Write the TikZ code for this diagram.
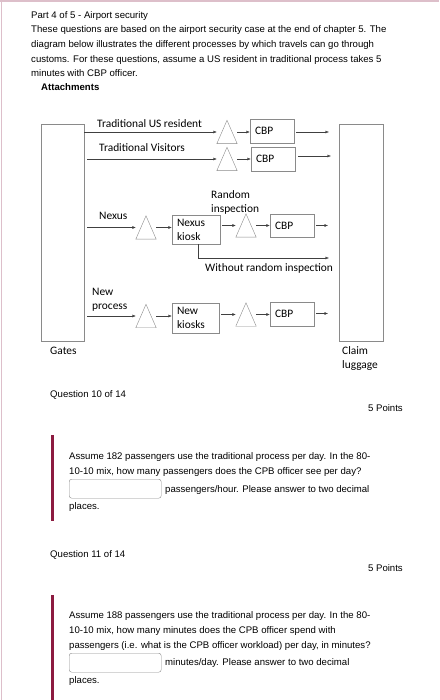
\documentclass[tikz,border=0pt]{standalone}
\usepackage{fontspec}
\setmainfont{Liberation Sans}
\newfontfamily\calibri{Carlito}
\usetikzlibrary{arrows.meta}
\definecolor{framepink}{HTML}{DDBFCA}
\definecolor{barred}{HTML}{8C1B40}
\definecolor{boxgray}{HTML}{8A8A8A}

\begin{document}
\begin{tikzpicture}[x=1pt,y=-1pt,
    txt/.style={anchor=base west,inner sep=0pt,font=\fontsize{9.6}{14.6}\selectfont,align=left},
    lbl/.style={anchor=base west,inner sep=0pt,font=\calibri\fontsize{11.4}{14}\selectfont,align=left},
    stage/.style={draw=boxgray,inner xsep=5pt,inner ysep=0pt,align=left,font=\calibri\fontsize{11.4}{14}\selectfont},
    tri/.style={minimum width=20pt,minimum height=23pt,inner sep=0pt},
    hall/.style={draw=boxgray,minimum width=43pt,minimum height=217pt,inner sep=0pt},
    arr/.style={draw=black!75,-{Latex[length=3.5pt,width=3pt]}},
    inbox/.style={draw=boxgray,rounded corners=2.5pt,minimum width=92pt,minimum height=19pt,inner sep=0pt,anchor=north west}]
    \useasboundingbox (0,0) rectangle (439,700);
    \draw[framepink,line width=1.2pt] (0,1) -- (439,1);
    \draw[framepink,line width=1.2pt] (1.5,0) -- (1.5,700);

    % heading (multi-line nodes sit on their last baseline)
    \node[txt] (part) at (31,19) {Part 4 of 5 - Airport security};
    \node[txt] (intro) at (31,76.8) {These questions are based on the airport security case at the end of chapter 5. The\\
      diagram below illustrates the different processes by which travels can go through\\
      customs. For these questions, assume a US resident in traditional process takes 5\\
      minutes with CBP officer.};
    \node[txt,font=\bfseries\fontsize{9.6}{10}\selectfont] (attach) at (41,91) {Attachments};

    % diagram
    \node[hall] (gates) at (62.5,232.5) {};
    \node[hall,minimum width=44pt] (claim) at (361,232.5) {};
    \node[lbl] (gateslbl) at (50,354) {Gates};
    \node[lbl] (claimlbl) at (342,368) {Claim\\luggage};

    \node[tri] (t1) at (227,132) {};
    \node[tri] (t2) at (227,159) {};
    \node[tri] (t3) at (146,227.5) {};
    \node[tri] (t4) at (246,225.5) {};
    \node[tri] (t5) at (146,316) {};
    \node[tri] (t6) at (246,314.5) {};
    \foreach \t in {t1,t2,t3,t4,t5,t6}
      \draw[boxgray] (\t.south west) -- (\t.north) -- (\t.south east) -- cycle;

    \node[stage,text width=34pt,minimum height=24pt] (cbp1) at (272,131) {CBP};
    \node[stage,text width=34pt,minimum height=24pt] (cbp2) at (273,159) {CBP};
    \node[stage,text width=38pt,minimum height=29pt] (kiosk) at (196,229.5) {Nexus\\kiosk};
    \node[stage,text width=34pt,minimum height=23pt] (cbp3) at (292,225.5) {CBP};
    \node[stage,text width=37pt,minimum height=30pt] (newk) at (195.5,318) {New\\kiosks};
    \node[stage,text width=34pt,minimum height=24pt] (cbp4) at (292,314) {CBP};

    \coordinate (o1) at (329,132);
    \coordinate (o2) at (331,156);
    \coordinate (o3) at (328,225.5);
    \coordinate (o4) at (329,258);
    \coordinate (o6) at (328,313.5);

    \node[lbl] (usres) at (97,128) {Traditional US resident};
    \node[lbl] (visit) at (99,152) {Traditional Visitors};
    \node[lbl] (nexus) at (99,220) {Nexus};
    \node[lbl] (random) at (211,213) {Random\\inspection};
    \node[lbl] (without) at (205,271) {Without random inspection};
    \node[lbl] (newproc) at (92,309) {New\\process};

    \draw[arr] (gates.east |- t1.west) -- (t1.west);
    \draw[arr] (t1.east) -- (t1.east -| cbp1.west);
    \draw[arr,shorten <=2pt] (cbp1.east |- o1) -- (o1);
    \draw[arr,shorten <=3pt] (gates.east |- t2.west) -- (t2.west);
    \draw[arr] (t2.east) -- (t2.east -| cbp2.west);
    \draw[arr,shorten <=3pt] (cbp2.east |- o2) -- (o2);
    \draw[arr,shorten <=3pt] (gates.east |- t3.west) -- (t3.west);
    \draw[arr] (t3.east) -- (t3.east -| kiosk.west);
    \draw[arr,shorten <=2pt] (kiosk.east |- t4.west) -- (t4.west);
    \draw[arr] (t4.east) -- (t4.east -| cbp3.west);
    \draw[arr,shorten <=2pt] (cbp3.east) -- (o3);
    \draw[arr] ([xshift=2pt]kiosk.south) |- (o4);
    \draw[arr,shorten <=3pt] (gates.east |- t5.west) -- (t5.west);
    \draw[arr] (t5.east) -- (t5.east -| newk.west);
    \draw[arr,shorten <=2pt] (newk.east |- t6.west) -- (t6.west);
    \draw[arr] (t6.east) -- (t6.east -| cbp4.west);
    \draw[arr,shorten <=2pt] (cbp4.east |- o6) -- (o6);

    % question 10
    \node[txt] (q10) at (50,397) {Question 10 of 14};
    \node[txt,anchor=base east] (pts10) at (403,411) {5 Points};
    \fill[barred] (51,435) rectangle (54,521);
    \node[txt] (q10text) at (69,474) {Assume 182 passengers use the traditional process per day. In the 80-\\
      10-10 mix, how many passengers does the CPB officer see per day?};
    \node[inbox] (ans10) at (69,479) {};
    \node[txt] (unit10) at (165,492) {passengers/hour. Please answer to two decimal};
    \node[txt] (pl10) at (69,509) {places.};

    % question 11
    \node[txt] (q11) at (50,557) {Question 11 of 14};
    \node[txt,anchor=base east] (pts11) at (403,571) {5 Points};
    \fill[barred] (51,595) rectangle (54,700);
    \node[txt] (q11text) at (69,648) {Assume 188 passengers use the traditional process per day. In the 80-\\
      10-10 mix, how many minutes does the CPB officer spend with\\
      passengers (i.e. what is the CPB officer workload) per day, in minutes?};
    \node[inbox] (ans11) at (69,653) {};
    \node[txt] (unit11) at (165,665) {minutes/day. Please answer to two decimal};
    \node[txt] (pl11) at (69,683) {places.};
\end{tikzpicture}
\end{document}
